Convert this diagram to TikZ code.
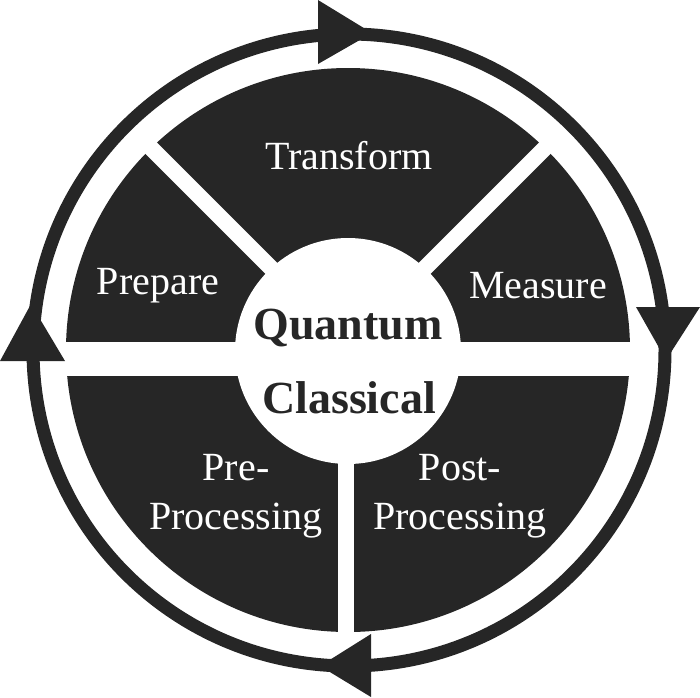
\documentclass[tikz,border=0pt]{standalone}
\usepackage{fontspec}
\setmainfont{Liberation Serif}
\definecolor{dk}{HTML}{262626}
\begin{document}
\begin{tikzpicture}[x=1pt,y=-1pt,
  lab/.style={text=white,font=\fontsize{40}{49}\selectfont,align=center,inner sep=0pt},
  mid/.style={text=dk,font=\fontsize{46}{50}\bfseries\selectfont,inner sep=0pt},
  gap/.style={draw=white,line width=16pt}]
\useasboundingbox (0,0) rectangle (700,697);
% disc
\fill[dk] (348,350) circle[radius=282];
\fill[white] (40,342) rectangle (660,376);
\fill[white] (338,350) rectangle (354,660);
\draw[gap] (348,345) -- ++(-240,-240);
\draw[gap] (348,345) -- ++(240,-240);
\fill[white] (348,351) circle[radius=113];
% ring
\draw[dk,line width=13pt] (349,350) circle[radius=316];
\fill[dk] (318,0) -- (318,64) -- (372,33) -- cycle;
\fill[dk] (636,307) -- (700,307) -- (666,360) -- cycle;
\fill[dk] (371,634) -- (371,697) -- (320,666) -- cycle;
\fill[dk] (0,361) -- (65,361) -- (31,304) -- cycle;
% labels
\node[lab] (tr) at (349,156) {Transform};
\node[lab] (pr) at (158,286) {Prepare};
\node[lab] (me) at (538,286) {Measure};
\node[mid] (qu) at (348,328) {Quantum};
\node[mid] (cl) at (349,398) {Classical};
\node[lab] (pre) at (236,496) {Pre-\\Processing};
\node[lab] (post) at (460,496) {Post-\\Processing};
\end{tikzpicture}
\end{document}
